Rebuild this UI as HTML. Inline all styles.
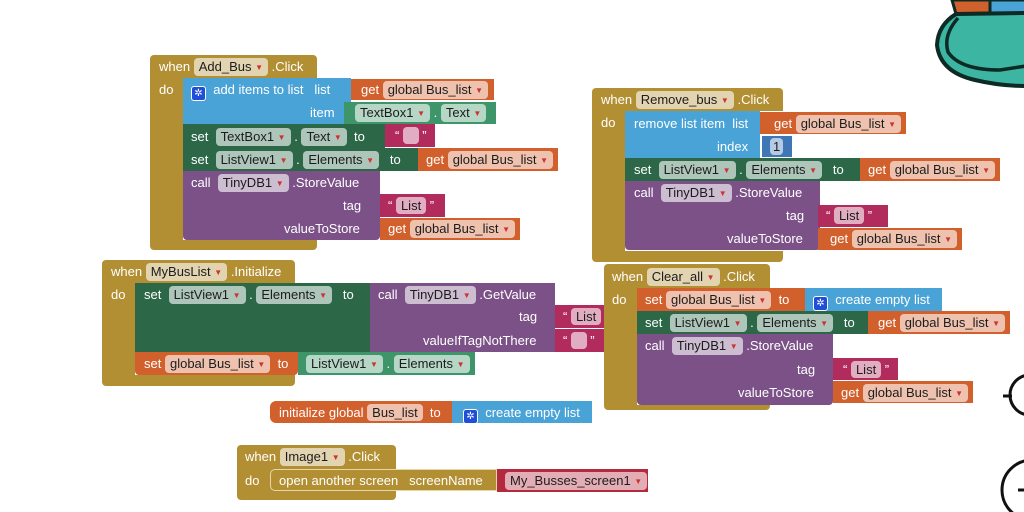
<!DOCTYPE html>
<html><head><meta charset="utf-8"><style>
body{margin:0;width:1024px;height:512px;background:#fff;position:relative;overflow:hidden;font-family:"Liberation Sans",sans-serif}
.b{position:absolute;border-radius:4px}
.t{position:absolute;color:#fff;font-size:13px;line-height:17px;white-space:nowrap}
.f{background:rgba(255,255,255,.62);color:#1c1c1c;border-radius:4px;padding:0 5px;display:inline-block;line-height:17px}
.a{font-size:8px;color:#c33;vertical-align:1px}
.g{background:#b38f33}.bl{background:#4aa3d6}.dg{background:#2c6747}.lg{background:#3f956a}
.p{background:#7b5187}.o{background:#d1602c}.pk{background:#b12c5c}.r{background:#b3293d}
.gear{display:inline-block;width:13px;height:13px;background:#1f4fd8;border-radius:3px;color:#fff;font-size:10px;line-height:13px;text-align:center;border:1px solid #fff;vertical-align:-2px}
</style></head><body>

<!-- Block 1 Add_Bus -->
<div class="b g" style="left:150px;top:55px;width:167px;height:195px"></div>
<div class="b" style="left:183px;top:78px;width:134px;height:162px;background:#fff;border-radius:0"></div>
<div class="t" style="left:159px;top:58px">when <span class="f">Add_Bus <span class="a">▼</span></span> .Click</div>
<div class="t" style="left:159px;top:81px">do</div>
<div class="b bl" style="left:183px;top:78px;width:168px;height:46px;border-radius:0"></div>
<div class="t" style="left:191px;top:81px"><span class="gear">✲</span>&nbsp; add items to list&nbsp;&nbsp; list</div>
<div class="t" style="left:310px;top:104px">item</div>
<div class="b o" style="left:351px;top:79px;width:143px;height:21px;border-radius:0"></div>
<div class="t" style="left:361px;top:81px">get <span class="f">global Bus_list <span class="a">▼</span></span></div>
<div class="b lg" style="left:344px;top:102px;width:152px;height:22px;border-radius:0"></div>
<div class="t" style="left:355px;top:104px"><span class="f">TextBox1 <span class="a">▼</span></span> . <span class="f">Text <span class="a">▼</span></span></div>
<div class="b dg" style="left:183px;top:124px;width:202px;height:24px;border-radius:0"></div>
<div class="t" style="left:191px;top:128px">set&nbsp; <span class="f">TextBox1 <span class="a">▼</span></span> . <span class="f">Text <span class="a">▼</span></span>&nbsp; to</div>
<div class="b pk" style="left:385px;top:124px;width:50px;height:23px;border-radius:0"></div>
<div class="t" style="left:395px;top:127px">“ <span class="f" style="padding:0 6px">&nbsp;</span> ”</div>
<div class="b dg" style="left:183px;top:148px;width:235px;height:23px;border-radius:0"></div>
<div class="t" style="left:191px;top:151px">set&nbsp; <span class="f">ListView1 <span class="a">▼</span></span> . <span class="f">Elements <span class="a">▼</span></span>&nbsp;&nbsp; to</div>
<div class="b o" style="left:418px;top:148px;width:140px;height:23px;border-radius:0"></div>
<div class="t" style="left:426px;top:151px">get <span class="f">global Bus_list <span class="a">▼</span></span></div>
<div class="b p" style="left:183px;top:171px;width:197px;height:69px;border-radius:0 0 4px 4px"></div>
<div class="t" style="left:191px;top:174px">call&nbsp; <span class="f">TinyDB1 <span class="a">▼</span></span> .StoreValue</div>
<div class="t" style="left:343px;top:197px">tag</div>
<div class="t" style="left:284px;top:220px">valueToStore</div>
<div class="b pk" style="left:380px;top:194px;width:65px;height:23px;border-radius:0"></div>
<div class="t" style="left:388px;top:197px">“ <span class="f">List</span> ”</div>
<div class="b o" style="left:380px;top:218px;width:140px;height:22px;border-radius:0"></div>
<div class="t" style="left:388px;top:220px">get <span class="f">global Bus_list <span class="a">▼</span></span></div>

<!-- Block 2 Remove_bus -->
<div class="b g" style="left:592px;top:88px;width:191px;height:174px"></div>
<div class="b" style="left:625px;top:111px;width:158px;height:140px;background:#fff;border-radius:0"></div>
<div class="t" style="left:601px;top:91px">when <span class="f">Remove_bus <span class="a">▼</span></span> .Click</div>
<div class="t" style="left:601px;top:114px">do</div>
<div class="b bl" style="left:625px;top:111px;width:135px;height:47px;border-radius:0"></div>
<div class="t" style="left:634px;top:115px">remove list item&nbsp; list</div>
<div class="t" style="left:717px;top:138px">index</div>
<div class="b o" style="left:760px;top:112px;width:146px;height:22px;border-radius:0"></div>
<div class="t" style="left:774px;top:115px">get <span class="f">global Bus_list <span class="a">▼</span></span></div>
<div class="b" style="left:762px;top:136px;width:30px;height:21px;border-radius:0;background:#3f77b6"></div>
<div class="t" style="left:770px;top:138px"><span class="f" style="padding:0 3px">1</span></div>
<div class="b dg" style="left:625px;top:158px;width:235px;height:23px;border-radius:0"></div>
<div class="t" style="left:634px;top:161px">set&nbsp; <span class="f">ListView1 <span class="a">▼</span></span> . <span class="f">Elements <span class="a">▼</span></span>&nbsp;&nbsp; to</div>
<div class="b o" style="left:860px;top:158px;width:140px;height:23px;border-radius:0"></div>
<div class="t" style="left:868px;top:161px">get <span class="f">global Bus_list <span class="a">▼</span></span></div>
<div class="b p" style="left:625px;top:181px;width:195px;height:69px;border-radius:0 0 4px 4px"></div>
<div class="t" style="left:634px;top:184px">call&nbsp; <span class="f">TinyDB1 <span class="a">▼</span></span> .StoreValue</div>
<div class="t" style="left:786px;top:207px">tag</div>
<div class="t" style="left:727px;top:230px">valueToStore</div>
<div class="b pk" style="left:818px;top:205px;width:70px;height:22px;border-radius:0"></div>
<div class="t" style="left:826px;top:207px">“ <span class="f">List</span> ”</div>
<div class="b o" style="left:818px;top:228px;width:144px;height:22px;border-radius:0"></div>
<div class="t" style="left:830px;top:230px">get <span class="f">global Bus_list <span class="a">▼</span></span></div>

<!-- Block 3 MyBusList -->
<div class="b g" style="left:102px;top:260px;width:193px;height:126px"></div>
<div class="b" style="left:135px;top:283px;width:160px;height:92px;background:#fff;border-radius:0"></div>
<div class="t" style="left:111px;top:263px">when <span class="f">MyBusList <span class="a">▼</span></span> .Initialize</div>
<div class="t" style="left:111px;top:286px">do</div>
<div class="b dg" style="left:135px;top:283px;width:235px;height:69px;border-radius:0"></div>
<div class="t" style="left:144px;top:286px">set&nbsp; <span class="f">ListView1 <span class="a">▼</span></span> . <span class="f">Elements <span class="a">▼</span></span>&nbsp;&nbsp; to</div>
<div class="b p" style="left:370px;top:283px;width:185px;height:69px;border-radius:0"></div>
<div class="t" style="left:378px;top:286px">call&nbsp; <span class="f">TinyDB1 <span class="a">▼</span></span> .GetValue</div>
<div class="t" style="left:519px;top:308px">tag</div>
<div class="t" style="left:423px;top:332px">valueIfTagNotThere</div>
<div class="b pk" style="left:555px;top:305px;width:65px;height:23px;border-radius:0"></div>
<div class="t" style="left:563px;top:308px">“ <span class="f">List</span> ”</div>
<div class="b pk" style="left:555px;top:329px;width:50px;height:23px;border-radius:0"></div>
<div class="t" style="left:563px;top:332px">“ <span class="f" style="padding:0 6px">&nbsp;</span> ”</div>
<div class="b o" style="left:135px;top:352px;width:163px;height:23px;border-radius:0 0 4px 4px"></div>
<div class="t" style="left:144px;top:355px">set <span class="f">global Bus_list <span class="a">▼</span></span>&nbsp; to</div>
<div class="b lg" style="left:298px;top:352px;width:177px;height:23px;border-radius:0"></div>
<div class="t" style="left:306px;top:355px"><span class="f">ListView1 <span class="a">▼</span></span> . <span class="f">Elements <span class="a">▼</span></span></div>

<!-- init global -->
<div class="b o" style="left:270px;top:401px;width:182px;height:22px;border-radius:6px 0 0 6px"></div>
<div class="t" style="left:279px;top:404px">initialize global <span class="f">Bus_list</span>&nbsp; to</div>
<div class="b bl" style="left:452px;top:401px;width:140px;height:22px;border-radius:0"></div>
<div class="t" style="left:463px;top:404px"><span class="gear">✲</span>&nbsp; create empty list</div>

<!-- Block 5 Clear_all -->
<div class="b g" style="left:604px;top:264px;width:166px;height:146px"></div>
<div class="b" style="left:637px;top:288px;width:133px;height:117px;background:#fff;border-radius:0"></div>
<div class="t" style="left:612px;top:268px">when <span class="f">Clear_all <span class="a">▼</span></span> .Click</div>
<div class="t" style="left:612px;top:291px">do</div>
<div class="b o" style="left:637px;top:288px;width:168px;height:23px;border-radius:0"></div>
<div class="t" style="left:645px;top:291px">set <span class="f">global Bus_list <span class="a">▼</span></span>&nbsp; to</div>
<div class="b bl" style="left:805px;top:288px;width:137px;height:23px;border-radius:0"></div>
<div class="t" style="left:813px;top:291px"><span class="gear">✲</span>&nbsp; create empty list</div>
<div class="b dg" style="left:637px;top:311px;width:231px;height:23px;border-radius:0"></div>
<div class="t" style="left:645px;top:314px">set&nbsp; <span class="f">ListView1 <span class="a">▼</span></span> . <span class="f">Elements <span class="a">▼</span></span>&nbsp;&nbsp; to</div>
<div class="b o" style="left:868px;top:311px;width:142px;height:23px;border-radius:0"></div>
<div class="t" style="left:878px;top:314px">get <span class="f">global Bus_list <span class="a">▼</span></span></div>
<div class="b p" style="left:637px;top:334px;width:196px;height:71px;border-radius:0 0 4px 4px"></div>
<div class="t" style="left:645px;top:337px">call&nbsp; <span class="f">TinyDB1 <span class="a">▼</span></span> .StoreValue</div>
<div class="t" style="left:797px;top:361px">tag</div>
<div class="t" style="left:738px;top:384px">valueToStore</div>
<div class="b pk" style="left:833px;top:358px;width:65px;height:22px;border-radius:0"></div>
<div class="t" style="left:843px;top:361px">“ <span class="f">List</span> ”</div>
<div class="b o" style="left:833px;top:381px;width:140px;height:22px;border-radius:0"></div>
<div class="t" style="left:841px;top:384px">get <span class="f">global Bus_list <span class="a">▼</span></span></div>

<!-- Block 6 Image1 -->
<div class="b g" style="left:237px;top:445px;width:159px;height:55px"></div>
<div class="t" style="left:245px;top:448px">when <span class="f">Image1 <span class="a">▼</span></span> .Click</div>
<div class="t" style="left:245px;top:472px">do</div>
<div class="b g" style="left:270px;top:469px;width:227px;height:22px;border:1px solid #e6d6a8;box-sizing:border-box;border-radius:5px 0 0 5px"></div>
<div class="t" style="left:279px;top:472px">open another screen&nbsp;&nbsp; screenName</div>
<div class="b r" style="left:497px;top:469px;width:151px;height:23px;border-radius:0"></div>
<div class="t" style="left:505px;top:472px"><span class="f">My_Busses_screen1 <span class="a">▼</span></span></div>

<!-- decorations -->
<svg style="position:absolute;left:0;top:0" width="1024" height="512">
<path d="M952 0 L990 0 L990 13 L956 14 Z" fill="#d0602c" stroke="#0d2a24" stroke-width="3"/>
<path d="M990 0 L1026 0 L1026 13 L990 13 Z" fill="#4aa3d6" stroke="#0d2a24" stroke-width="3"/>
<path d="M956 14 Q938 25 937 45 Q940 72 975 80 Q1000 86 1026 86 L1026 13 Z" fill="#3cb5a3" stroke="#0d2a24" stroke-width="4"/>
<path d="M958 18 Q943 35 948 52 Q960 70 1000 70 L1026 66" fill="none" stroke="#0d2a24" stroke-width="3.5"/>
<circle cx="1030" cy="395" r="20" fill="none" stroke="#111" stroke-width="3"/>
<line x1="1003" y1="396" x2="1012" y2="396" stroke="#111" stroke-width="3"/>
<circle cx="1032" cy="490" r="30" fill="none" stroke="#111" stroke-width="3"/>
<line x1="1018" y1="490" x2="1024" y2="490" stroke="#111" stroke-width="3"/>
</svg>
</body></html>
